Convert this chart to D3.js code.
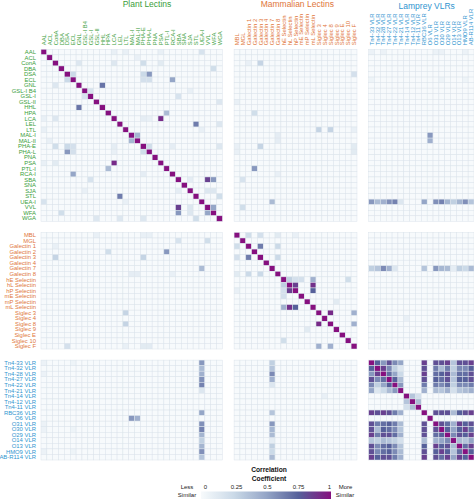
<!DOCTYPE html>
<html>
<head>
<meta charset="utf-8">
<script src="https://cdn.jsdelivr.net/npm/d3@7"></script>
<style>
  html, body { margin: 0; padding: 0; background: #ffffff; }
  svg { display: block; font-family: "Liberation Sans", Arial, sans-serif; }
</style>
</head>
<body>
<svg id="chart" width="474" height="499"></svg>
<script>
// ---------------- DATA ----------------
const plantLectins = ["AAL","ACL","ConA","DBA","DSA","ECL","GNL","GSL-I B4","GSL-I","GSL-II","HHL","HPA","LCA","LEL","LTL","MAL-I","MAL-II","PHA-E","PHA-L","PNA","PSA","PTL-I","RCA-I","SBA","SNA","SJA","STL","UEA-I","VVL","WFA","WGA"];
const mammalianLectins = ["MBL","MGL","Galectin 1","Galectin 2","Galectin 3","Galectin 4","Galectin 7","Galectin 8","hE Selectin","hL Selectin","hP Selectin","mE Selectin","mP Selectin","mL Selectin","Siglec 3","Siglec 4","Siglec 8","Siglec 9","Siglec E","Siglec 10","Siglec F"];
const lampreyVLRs = ["Tn4-33 VLR","Tn4-32 VLR","Tn4-28 VLR","Tn4-27 VLR","Tn4-22 VLR","Tn4-21 VLR","Tn4-14 VLR","Tn4-12 VLR","Tn4-11 VLR","RBC36 VLR","O6 VLR","O31 VLR","O30 VLR","O29 VLR","O14 VLR","O13 VLR","HMO9 VLR","AB-R114 VLR"];
const groupTitles = ["Plant Lectins","Mammalian Lectins","Lamprey VLRs"];

// symmetric correlation pairs (off-diagonal), plant x plant
const plantPlantPairs = [
  ["AAL","LCA",0.08],["AAL","LTL",0.08],["AAL","PSA",0.08],["AAL","UEA-I",0.18],
  ["ACL","MAL-II",0.08],
  ["ConA","GNL",0.15],["ConA","LCA",0.15],["ConA","PHA-E",0.22],["ConA","PSA",0.12],
  ["DBA","WFA",0.22],
  ["DSA","ECL",0.25],["DSA","PHA-E",0.25],["DSA","PHA-L",0.55],
  ["ECL","PHA-E",0.2],["ECL","PHA-L",0.2],["ECL","RCA-I",0.5],
  ["GNL","HHL",0.68],
  ["GSL-I B4","GSL-I",0.18],["GSL-I B4","SJA",0.08],
  ["GSL-I","SBA",0.18],
  ["GSL-II","WGA",0.15],
  ["HPA","PTL-I",0.4],
  ["LCA","PSA",0.92],["LCA","PHA-E",0.1],["LCA","PHA-L",0.08],
  ["LEL","STL",0.65],["LEL","WGA",0.15],
  ["LTL","UEA-I",0.08],
  ["MAL-I","MAL-II",0.42],
  ["PHA-E","PHA-L",0.22],["PHA-E","RCA-I",0.1],["PHA-E","WGA",0.15],
  ["SBA","VVL",0.85],["SBA","WFA",0.55],["SBA","SJA",0.1],
  ["SJA","VVL",0.15],["SJA","WFA",0.15],
  ["STL","WGA",0.22],
  ["VVL","WFA",0.5]
];
// plant x mammalian
const plantMammalPairs = [
  ["ConA","Galectin 3",0.28],["ConA","Galectin 1",0.08],
  ["DSA","Siglec F",0.2],
  ["HPA","Galectin 2",0.22],["PTL-I","Galectin 2",0.55],
  ["LTL","Siglec 3",0.28],["LTL","Siglec 8",0.28],["LTL","Siglec F",0.08],
  ["PHA-E","Galectin 3",0.28],["PHA-E","Siglec F",0.12],["PHA-L","Siglec F",0.12],
  ["SBA","MGL",0.18],["VVL","MGL",0.22],
  ["UEA-I","Galectin 7",0.4],
  ["MAL-I","Galectin 8",0.1],["MAL-II","Galectin 8",0.1],["RCA-I","Galectin 8",0.08],
  ["GSL-II","MBL",0.08],["PHA-E","MBL",0.08],["PHA-L","MBL",0.08]
];
// plant x lamprey
const plantLampreyPairs = [
  ["UEA-I","Tn4-33 VLR",0.55],["UEA-I","Tn4-32 VLR",0.4],["UEA-I","Tn4-28 VLR",0.45],["UEA-I","Tn4-27 VLR",0.58],
  ["UEA-I","Tn4-22 VLR",0.63],["UEA-I","Tn4-21 VLR",0.15],["UEA-I","RBC36 VLR",0.5],["UEA-I","O31 VLR",0.58],
  ["UEA-I","O30 VLR",0.63],["UEA-I","O29 VLR",0.43],["UEA-I","O14 VLR",0.3],["UEA-I","O13 VLR",0.43],
  ["UEA-I","HMO9 VLR",0.58],["UEA-I","AB-R114 VLR",0.35],
  ["MAL-I","O6 VLR",0.55],["MAL-II","O6 VLR",0.45],
  ["AAL","Tn4-33 VLR",0.06],["AAL","Tn4-28 VLR",0.06],["AAL","O31 VLR",0.06],["AAL","O30 VLR",0.06],["AAL","HMO9 VLR",0.06],
  ["ECL","Tn4-33 VLR",0.05],["ECL","O30 VLR",0.05],["ECL","HMO9 VLR",0.05]
];
// mammalian x mammalian
const mammalMammalPairs = [
  ["MBL","Galectin 1",0.22],["MBL","Galectin 3",0.2],["MBL","Galectin 8",0.12],["MBL","hP Selectin",0.08],
  ["Galectin 1","Galectin 3",0.65],["Galectin 1","Galectin 8",0.25],["Galectin 3","Galectin 8",0.25],
  ["hE Selectin","hL Selectin",0.3],["hE Selectin","hP Selectin",0.2],["hE Selectin","mE Selectin",0.2],
  ["hE Selectin","mL Selectin",0.45],["hE Selectin","Siglec 10",0.22],
  ["hL Selectin","hP Selectin",0.85],["hL Selectin","mL Selectin",0.9],["hP Selectin","mL Selectin",0.75],
  ["mP Selectin","Siglec 9",0.12],
  ["Siglec 3","Siglec 8",0.92],["Siglec 3","Siglec F",0.45],["Siglec 8","Siglec F",0.45]
];
// mammalian x lamprey
const mammalLampreyPairs = [
  ["Galectin 7","Tn4-33 VLR",0.3],["Galectin 7","Tn4-32 VLR",0.35],["Galectin 7","Tn4-28 VLR",0.6],
  ["Galectin 7","Tn4-27 VLR",0.45],["Galectin 7","Tn4-22 VLR",0.15],["Galectin 7","RBC36 VLR",0.35],
  ["Galectin 7","O31 VLR",0.55],["Galectin 7","O30 VLR",0.42],["Galectin 7","O29 VLR",0.4],
  ["Galectin 7","O14 VLR",0.1],["Galectin 7","O13 VLR",0.3],["Galectin 7","HMO9 VLR",0.25],
  ["Galectin 7","AB-R114 VLR",0.4],
  ["Siglec 4","Tn4-14 VLR",0.08]
];
// lamprey x lamprey, upper triangle: row i holds values for columns i+1 .. 17
const lampreyUpper = [
  [0.75,0.55,0.8,0.6,0.5,0,0,0,0.85,0,0.8,0.8,0.85,0.35,0.8,0.8,0.85],
  [0.85,0.6,0.3,0.15,0,0,0,0.8,0,0.65,0.4,0.65,0.3,0.6,0.6,0.75],
  [0.7,0.5,0.25,0,0,0,0.85,0,0.7,0.75,0.8,0.4,0.7,0.7,0.8],
  [0.75,0.4,0,0,0,0.8,0,0.75,0.7,0.8,0.35,0.75,0.75,0.8],
  [0.55,0,0,0,0.65,0,0.65,0.6,0.7,0.3,0.6,0.6,0.65],
  [0,0,0,0.45,0,0.4,0.35,0.45,0.2,0.35,0.4,0.45],
  [0.35,0.2,0,0,0,0,0,0,0,0,0],
  [0.4,0,0,0,0,0,0,0,0,0],
  [0,0,0,0,0,0,0,0,0],
  [0,0.8,0.8,0.8,0.4,0.75,0.8,0.85],
  [0,0,0,0,0,0,0],
  [0.8,0.7,0.45,0.85,0.75,0.8],
  [0.75,0.5,0.75,0.85,0.7],
  [0.6,0.8,0.75,0.85],
  [0.4,0.35,0.5],
  [0.7,0.85],
  [0.75],
  []
];
const legendTicks = [0, 0.25, 0.5, 0.75, 1];
const legendColors = ["#f7fafc", "#cbdae8", "#95a6c7", "#56609a", "#86107f"];

// ---------------- BUILD ----------------
const groups = [plantLectins, mammalianLectins, lampreyVLRs];
const groupColors = ["#3a9e3a", "#e0763a", "#2f94cf"];
const allLabels = [].concat(plantLectins, mammalianLectins, lampreyVLRs);
const keys = [].concat(plantLectins, ["_g1","_g2"], mammalianLectins, ["_g3","_g4"], lampreyVLRs);
const groupOf = {};
groups.forEach((g, gi) => g.forEach(l => groupOf[l] = gi));

const val = new Map();
const setV = (a, b, v) => { val.set(a + "|" + b, v); val.set(b + "|" + a, v); };
allLabels.forEach(l => setV(l, l, 1));
[plantPlantPairs, plantMammalPairs, plantLampreyPairs, mammalMammalPairs, mammalLampreyPairs]
  .forEach(list => list.forEach(([a, b, v]) => setV(a, b, v)));
lampreyUpper.forEach((row, i) => row.forEach((v, k) => setV(lampreyVLRs[i], lampreyVLRs[i + 1 + k], v)));

const cells = [];
allLabels.forEach(r => allLabels.forEach(c => cells.push({ r, c, v: val.get(r + "|" + c) || 0 })));

const svg = d3.select("#chart");
const x = d3.scaleBand().domain(keys).range([41, 474]);
const y = d3.scaleBand().domain(keys).range([49.3, 460]);
const color = d3.scaleLinear().domain(legendTicks).range(legendColors).interpolate(d3.interpolateRgb).clamp(true);

svg.append("g").selectAll("rect").data(cells).join("rect")
  .attr("x", d => x(d.c)).attr("y", d => y(d.r))
  .attr("width", x.bandwidth()).attr("height", y.bandwidth())
  .attr("fill", d => color(d.v))
  .attr("stroke", "#dbe3eb").attr("stroke-width", 0.5);

// row labels
const yAxis = svg.append("g").attr("transform", "translate(41,0)")
  .call(d3.axisLeft(y).tickValues(allLabels).tickSize(0).tickPadding(5));
yAxis.select(".domain").remove();
yAxis.selectAll("text")
  .attr("font-size", 5.9).attr("font-family", "Liberation Sans, Arial, sans-serif")
  .attr("fill", d => groupColors[groupOf[d]]);

// column labels
const xAxis = svg.append("g").attr("transform", "translate(0,49.3)")
  .call(d3.axisTop(x).tickValues(allLabels).tickSize(0));
xAxis.select(".domain").remove();
xAxis.selectAll("text")
  .attr("transform", "rotate(-90)").attr("x", 4).attr("y", 0).attr("dy", "0.35em")
  .style("text-anchor", "start")
  .attr("font-size", 5.9).attr("font-family", "Liberation Sans, Arial, sans-serif")
  .attr("fill", d => groupColors[groupOf[d]]);

// group titles
const titlePos = [[147, 7.3], [297.3, 7.3], [426.7, 8.5]];
groupTitles.forEach((t, i) => {
  svg.append("text").attr("x", titlePos[i][0]).attr("y", titlePos[i][1])
    .attr("text-anchor", "middle").attr("font-size", 8.5)
    .attr("fill", groupColors[i]).text(t);
});

// legend
const lx = d3.scaleLinear().domain([0, 1]).range([205, 329]);
const defs = svg.append("defs");
const grad = defs.append("linearGradient").attr("id", "lg").attr("x1", "0%").attr("x2", "100%");
d3.range(0, 1.0001, 0.05).forEach(t => grad.append("stop").attr("offset", (t * 100) + "%").attr("stop-color", color(t)));
svg.append("rect").attr("x", 201).attr("y", 491.5).attr("width", 130).attr("height", 7.5).attr("fill", "url(#lg)");
const lAxis = svg.append("g").attr("transform", "translate(0,488.5)")
  .call(d3.axisTop(lx).tickValues(legendTicks).tickSize(0).tickPadding(0).tickFormat(d3.format("")));
lAxis.select(".domain").remove();
lAxis.selectAll("text").attr("font-size", 6).attr("fill", "#222").attr("dy", 0);
const lt = svg.append("text").attr("text-anchor", "middle").attr("font-size", 6.7).attr("font-weight", "bold").attr("fill", "#111");
lt.append("tspan").attr("x", 269).attr("y", 472).text("Correlation");
lt.append("tspan").attr("x", 269).attr("y", 480.5).text("Coefficient");
[["Less", 187, 488.5], ["Similar", 187, 497], ["More", 345.5, 488.5], ["Similar", 345, 497]].forEach(([t, tx, ty]) => {
  svg.append("text").attr("x", tx).attr("y", ty).attr("text-anchor", "middle").attr("font-size", 6).attr("fill", "#222").text(t);
});
</script>
</body>
</html>
